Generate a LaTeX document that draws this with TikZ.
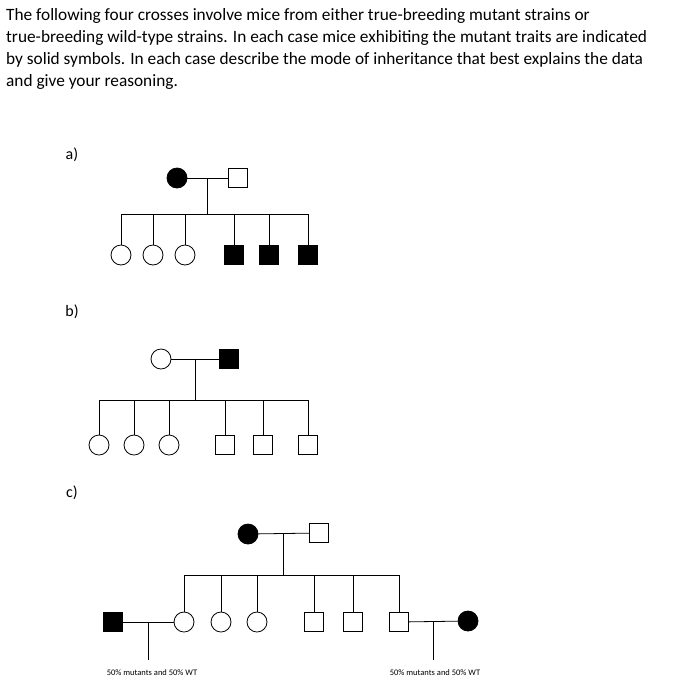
\documentclass[tikz,border=0pt]{standalone}
\usepackage{fontspec}
\setmainfont{Carlito}
\begin{document}
\begin{tikzpicture}[x=1pt,y=-1pt,
  fem/.style={circle,draw,line width=0.8pt,minimum size=20pt,inner sep=0pt},
  mal/.style={rectangle,draw,line width=0.8pt,minimum size=19pt,inner sep=0pt},
  aff/.style={fill=black},
  ln/.style={line width=0.8pt},
  lab/.style={font=\fontsize{8.5}{10}\selectfont, anchor=center}]
\useasboundingbox (0,0) rectangle (700,686);
\node[anchor=north west,align=left,inner sep=0pt,font=\fontsize{17.3}{22}\selectfont] (t) at (6,8)
 {The following four crosses involve mice from either true-breeding mutant strains or\\ true-breeding wild-type strains. In each case mice exhibiting the mutant traits are indicated\\ by solid symbols. In each case describe the mode of inheritance that best explains the data\\ and give your reasoning.};
\node[font=\fontsize{16}{18}\selectfont] (la) at (72,155) {a)};
\node[font=\fontsize{16}{18}\selectfont] (lb) at (72,312) {b)};
\node[font=\fontsize{16}{18}\selectfont] (lc) at (72,493) {c)};
% a
\node[fem,aff] (am) at (177,178) {};
\node[mal] (af) at (238,178) {};
\draw[ln] (am) -- (af);
\draw[ln] (207,178) -- (207,214);
\draw[ln] (121,214) -- (308,214);
\foreach \x/\s [count=\i] in {121/fem,153/fem,185/fem,234/mal,269/mal,308/mal}{
  \ifnum\i>3 \node[\s,aff] (a\i) at (\x,255) {}; \else \node[\s] (a\i) at (\x,255) {}; \fi
  \draw[ln] (\x,214) -- (a\i);
}
% b
\node[fem] (bm) at (161,359) {};
\node[mal,aff] (bf) at (229,359) {};
\draw[ln] (bm) -- (bf);
\draw[ln] (195,359) -- (195,400);
\draw[ln] (99,400) -- (308,400);
\foreach \x/\s [count=\i] in {99/fem,134/fem,169/fem,225/mal,263/mal,308/mal}{
  \node[\s] (b\i) at (\x,445) {};
  \draw[ln] (\x,400) -- (b\i);
}
% c
\node[fem,aff] (cm) at (248,534) {};
\node[mal] (cf) at (319,533) {};
\draw[ln] (cm) -- (cf);
\draw[ln] (283,533) -- (283,575);
\draw[ln] (184,575) -- (399,575);
\foreach \x/\s [count=\i] in {184/fem,221/fem,257/fem,314/mal,353/mal,399/mal}{
  \node[\s] (c\i) at (\x,622) {};
  \draw[ln] (\x,575) -- (c\i);
}
\node[mal,aff] (cl) at (113,622) {};
\node[fem,aff] (cr) at (468,621) {};
\draw[ln] (cl) -- (c1);
\draw[ln] (c6) -- (cr);
\draw[ln] (148,622) -- (148,660);
\draw[ln] (433,622) -- (433,660);
\node[lab] (tl) at (152,673) {50\% mutants and 50\% WT};
\node[lab] (tr) at (435,673) {50\% mutants and 50\% WT};
\end{tikzpicture}
\end{document}
